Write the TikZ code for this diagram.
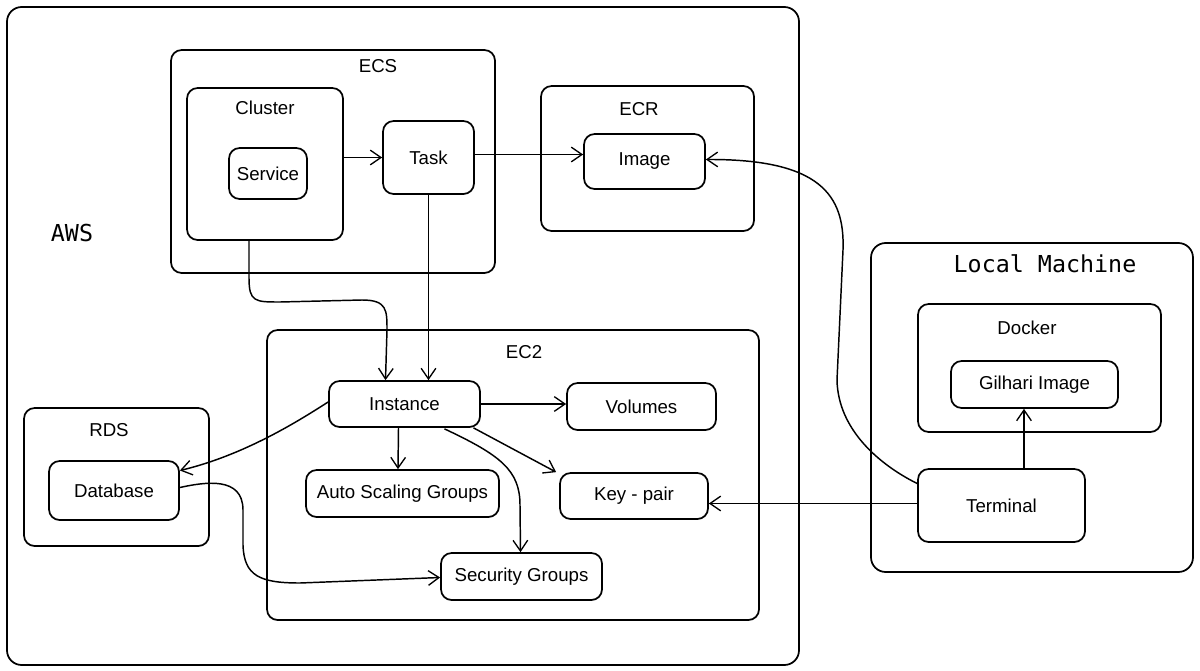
\documentclass[tikz,border=0pt]{standalone}
\usepackage{fontspec}
\setmainfont{Liberation Sans}
\newfontfamily\monof{DejaVu Sans Mono}
\usetikzlibrary{arrows.meta,calc}
\tikzset{
  box/.style={draw, line width=1.3pt, rounded corners=8pt, inner sep=0pt,
    font=\fontsize{14}{16}\selectfont},
  bigbox/.style={box, rounded corners=11pt},
  lbl/.style={inner sep=0pt, font=\fontsize{14}{16}\selectfont},
  monolbl/.style={inner sep=0pt, font=\monof\fontsize{17.5}{20}\selectfont},
  arr/.style={line width=1.1pt, -{Straight Barb[length=8pt,width=11pt,line width=1pt]}},
}
\newcommand{\bx}[7][box]{\node[#1, minimum width={(#4-#2)*0.75pt}, minimum height={(#5-#3)*0.75pt}] (#6) at ({(#2+#4)/2},{(#3+#5)/2}) {#7};}
\begin{document}
\begin{tikzpicture}[x=0.75pt,y=-0.75pt]
\useasboundingbox (0,0) rectangle (1200,671);
% containers
\bx[bigbox]{7}{7}{799}{665}{aws}{}
\bx{171}{50}{495}{273}{ecs}{}
\bx{187}{88}{343}{240}{cluster}{}
\bx{541}{86}{754}{231}{ecr}{}
\bx[bigbox]{871}{243}{1193}{572}{local}{}
\bx{918}{304}{1161}{432}{docker}{}
\bx{267}{330}{759}{620}{ec2}{}
\bx{24}{408}{209}{546}{rds}{}
% labels
\node[monolbl] (awsl) at (72,233) {AWS};
\node[monolbl] (locall) at (1045,264) {Local Machine};
\node[lbl] (ecsl) at (378,66) {ECS};
\node[lbl] (clusterl) at (265,108) {Cluster};
\node[lbl] (ecrl) at (639,109) {ECR};
\node[lbl] (ec2l) at (524,352) {EC2};
\node[lbl] (rdsl) at (109,430) {RDS};
\node[lbl] (dockerl) at (1027,328) {Docker};
% leaf nodes
\bx{229}{148}{307}{199}{service}{Service}
\bx{383}{121}{474}{194}{task}{Task}
\bx{584}{134}{705}{189}{image}{Image}
\bx{951}{361}{1118}{408}{gilhari}{Gilhari Image}
\bx{918}{469}{1085}{542}{terminal}{Terminal}
\bx{329}{381}{480}{427}{instance}{Instance}
\bx{567}{383}{716}{430}{volumes}{Volumes}
\bx{306}{470}{499}{517}{asg}{Auto Scaling Groups}
\bx{560}{473}{708}{519}{keypair}{Key - pair}
\bx{441}{553}{602}{600}{secg}{Security Groups}
\bx{49}{461}{179}{520}{database}{Database}
% connectors
\draw[arr] ($(task.west -| cluster.east)$) -- (task.west);
\draw[arr] ($(task.east)+(0,-3)$) -- ($(task.east -| image.west)+(0,-3)$);
\draw[arr, line width=1.4pt] (task.south) -- (task.south |- instance.north);
\draw[arr] ($(cluster.south)+(-16,0)$) -- (249,278) .. controls (249,302) and (255,302) .. (280,302)
  -- (362,300) .. controls (387,300) and (387,310) .. (387,330) -- ($(instance.north)+(-19,0)$);
\draw[arr] ($(instance.west)+(0,-2)$) .. controls (300,420) and (245,455) .. ($(database.east)+(0,-20)$);
\draw[arr] (instance.east) -- (instance.east -| volumes.west);
\draw[arr] ($(instance.south)+(-6,0)$) -- ($(asg.north)+(-4.5,0)$);
\draw[arr] ($(instance.south)+(69,0)$) -- ($(keypair.north west)+(-3,0)$);
\draw[arr] ($(instance.south)+(40,1)$) .. controls (500,455) and (520,470) .. (520,505) -- ($(secg.north)+(-1,0)$);
\draw[arr] ($(database.east)+(0,-3)$) .. controls (205,482) and (243,476) .. (243,510) -- (243,545)
  .. controls (244,576) and (260,583) .. (300,583) -- ($(secg.west)+(0,1)$);
\draw[arr] ($(terminal.west)+(0,-22)$) .. controls (880,465) and (838,430) .. (837,380) -- (843,250)
  .. controls (845,195) and (820,159) .. ($(image.east)+(0,-2)$);
\draw[arr] ($(terminal.west)+(0,-2)$) -- ($(keypair.east)+(0,7.5)$);
\draw[arr] ($(terminal.north)+(22.5,0)$) -- ($(gilhari.south)+(-10.5,0)$);
\end{tikzpicture}
\end{document}
